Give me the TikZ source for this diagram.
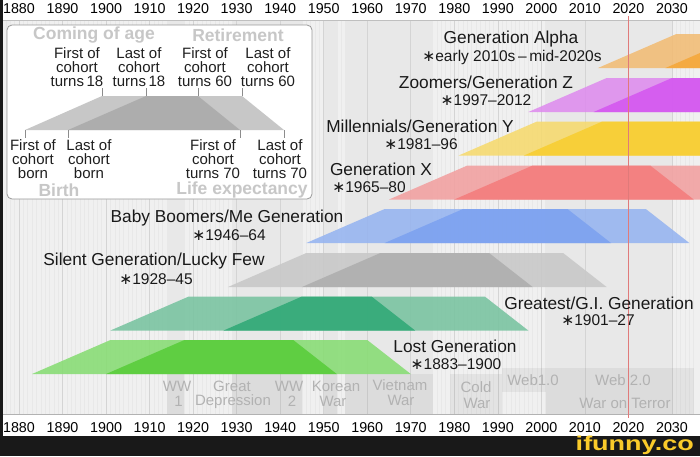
\documentclass[tikz,border=0pt]{standalone}
\usepackage{fontspec}
\setmainfont{Liberation Sans}
\newfontfamily\symfont{DejaVu Sans}
\definecolor{chartbg}{HTML}{F0F0F0}
\definecolor{alphaL}{HTML}{F2BC74}\definecolor{alphaD}{HTML}{F5A83C}
\definecolor{zL}{HTML}{DE8CEE}\definecolor{zD}{HTML}{D458F0}
\definecolor{yL}{HTML}{F6DA6E}\definecolor{yD}{HTML}{F8CE32}
\definecolor{xL}{HTML}{F2A0A0}\definecolor{xD}{HTML}{F47D7D}
\definecolor{bL}{HTML}{96B4F0}\definecolor{bD}{HTML}{7DA2F0}
\definecolor{sL}{HTML}{C8C8C8}\definecolor{sD}{HTML}{AFAFAF}
\definecolor{gL}{HTML}{78C3A0}\definecolor{gD}{HTML}{32AA78}
\definecolor{lL}{HTML}{87DC73}\definecolor{lD}{HTML}{5ACD3C}
\definecolor{nowred}{HTML}{E07A7A}
\definecolor{wmyellow}{HTML}{FACB2A}
\newcommand\genband[5]{%
  \fill[#4, fill opacity=0.88] ({yrx(#1)},{#3+34}) -- ({yrx(#1+18)},#3) -- ({yrx(#2+60)},#3) -- ({yrx(#2+70)},{#3+34}) -- cycle;
  \fill[#5, fill opacity=0.9] ({yrx(#2)},{#3+34}) -- ({yrx(#2+18)},#3) -- ({yrx(#1+60)},#3) -- ({yrx(#1+70)},{#3+34}) -- cycle;}
\newcommand\evbox[4]{%
  \fill[black, fill opacity=0.05] ({yrx(#1)},#3) rectangle ({yrx(#2)},#4);}
\begin{document}
\begin{tikzpicture}[x=1pt,y=-1pt,
  declare function={yrx(\x)=19+(\x-1880)*4.353;},
  yearline/.style={draw=black!9, line width=0.5pt},
  decline/.style={draw=black!17, line width=0.6pt},
  axl/.style={font=\fontsize{14.3}{15}\selectfont, inner sep=0, text=black},
  gname/.style={font=\fontsize{17.3}{18}\selectfont, inner sep=0, text=black!90},
  gsub/.style={font=\fontsize{15.5}{16}\selectfont, inner sep=0, text=black!90},
  evl/.style={font=\fontsize{15}{15}\selectfont, inner sep=0, text=black!30},
  leg/.style={font=\fontsize{15}{13.7}\selectfont, align=center, inner sep=0, text=black!88},
  legt/.style={font=\bfseries\fontsize{17.5}{18}\selectfont, inner sep=0, text=black!22},
  legtick/.style={draw=black!45, line width=0.6pt},
  legbox/.style={draw=black!40, fill=white, line width=0.8pt, rounded corners=5pt}]
\useasboundingbox (0,0) rectangle (700,456);
\fill[white] (0,0) rectangle (700,456);
\fill[chartbg] (0,20) rectangle (700,414);
% faint event tints over the full height
\foreach \s/\e in {1914/1918,1929/1939,1939/1945,1950/1953,1955/1975,2001/2030}
  {\fill[black, fill opacity=0.03] ({yrx(\s)},20) rectangle ({yrx(\e)},414);}
% year grid
\foreach \t in {1876,...,2035} {\draw[yearline] ({yrx(\t)},20) -- ({yrx(\t)},414);}
\foreach \t in {1880,1890,...,2030} {\draw[decline] ({yrx(\t)},20) -- ({yrx(\t)},414);}
% event label backdrops
\evbox{1914}{1918}{374}{414}
\evbox{1929}{1939}{374}{414}
\evbox{1939}{1945}{374}{414}
\evbox{1950}{1953}{374}{414}
\evbox{1955}{1975}{374}{414}
\evbox{1979}{1991}{374}{414}
\evbox{1991}{2004}{368}{392}
\evbox{2004}{2035}{368}{392}
\evbox{2001}{2035}{392}{414}
% generation bands
\begin{scope}
\clip (0,20) rectangle (700,414);
\genband{2013}{2028.5}{34}{alphaL}{alphaD}
\genband{1997}{2012}{78}{zL}{zD}
\genband{1981}{1996}{121.5}{yL}{yD}
\genband{1965}{1980}{165.5}{xL}{xD}
\genband{1946}{1964}{209}{bL}{bD}
\genband{1928}{1945}{253}{sL}{sD}
\genband{1901}{1927}{296.5}{gL}{gD}
\genband{1883}{1900}{340}{lL}{lD}
\end{scope}
\draw[black!25, line width=0.6pt] (0,20) -- (700,20);
\draw[black!30, line width=0.8pt] (0,414) -- (700,414);
% event labels
\node[evl] (ww1a) at (177,386) {WW};
\node[evl] (ww1b) at (178.5,401.5) {1};
\node[evl] (gda) at (232,386) {Great};
\node[evl] (gdb) at (233,401.5) {Depression};
\node[evl] (ww2a) at (289,386) {WW};
\node[evl] (ww2b) at (292,401.5) {2};
\node[evl] (kwa) at (336,386) {Korean};
\node[evl] (kwb) at (333,401.5) {War};
\node[evl] (vwa) at (400,385) {Vietnam};
\node[evl] (vwb) at (401,400.5) {War};
\node[evl] (cwa) at (476,387.5) {Cold};
\node[evl] (cwb) at (477,403) {War};
\node[evl] (web1) at (533,380) {Web1.0};
\node[evl] (web2) at (623,380) {Web 2.0};
\node[evl] (wot) at (625,403) {War on Terror};
% current year line
\draw[nowred, line width=0.8pt] ({yrx(2020)},16) -- ({yrx(2020)},418);
% legend box
\draw[legbox] (7,25) rectangle (312,199);
\fill[black!40, fill opacity=0.55] (25,130) -- (102,96) -- (198,96) -- (240,130) -- cycle;
\fill[black!40, fill opacity=0.55] (68,130) -- (146,96) -- (242,96) -- (284,130) -- cycle;
\foreach \p in {102,146,198,242} {\draw[legtick] (\p,88) -- (\p,96);}
\foreach \p in {25,68,240,284} {\draw[legtick] (\p,130) -- (\p,138);}
\node[legt] (coa) at (94,35) {Coming of age};
\node[legt] (ret) at (238,35) {Retirement};
\node[legt] (bir) at (59,190) {Birth};
\node[legt] (lex) at (242,190) {Life expectancy};
\node[leg] (lt1) at (77,67) {First of\\cohort\\turns\,18};
\node[leg] (lt2) at (139,67) {Last of\\cohort\\turns\,18};
\node[leg] (lt3) at (205,67) {First of\\cohort\\turns 60};
\node[leg] (lt4) at (268,67) {Last of\\cohort\\turns 60};
\node[leg] (lb1) at (33,159) {First of\\cohort\\born};
\node[leg] (lb2) at (89,159) {Last of\\cohort\\born};
\node[leg] (lb3) at (213,159) {First of\\cohort\\turns 70};
\node[leg] (lb4) at (280,159) {Last of\\cohort\\turns 70};
% generation labels
\node[gname] (nA) at (511,39) {Generation Alpha};
\node[gsub] (sA) at (512,57) {{\symfont ∗}early 2010s\,–\,mid-2020s};
\node[gname] (nZ) at (486,82) {Zoomers/Generation Z};
\node[gsub] (sZ) at (486,100) {{\symfont ∗}1997–2012};
\node[gname] (nY) at (420,126) {Millennials/Generation Y};
\node[gsub] (sY) at (421,144) {{\symfont ∗}1981–96};
\node[gname] (nX) at (381,169) {Generation X};
\node[gsub] (sX) at (369,187) {{\symfont ∗}1965–80};
\node[gname] (nB) at (227,218) {Baby Boomers/Me Generation};
\node[gsub] (sB) at (229,235) {{\symfont ∗}1946–64};
\node[gname] (nS) at (154,261) {Silent Generation/Lucky Few};
\node[gsub] (sS) at (156,279) {{\symfont ∗}1928–45};
\node[gname] (nG) at (599,303) {Greatest/G.I. Generation};
\node[gsub] (sG) at (598,320) {{\symfont ∗}1901–27};
\node[gname] (nL) at (455,346) {Lost Generation};
\node[gsub] (sL) at (456,364) {{\symfont ∗}1883–1900};
% axes
\foreach \t in {1880,1890,...,2030} {
  \node[axl] (top\t) at ({yrx(\t)},8.5) {\t};
  \node[axl] (bot\t) at ({yrx(\t)},427.5) {\t};}
% frame bits
\fill[black!90] (0,436) rectangle (700,456);
\fill[black!90] (0,0) rectangle (2.5,436);
\node[font=\bfseries\fontsize{20}{20}\selectfont, text=wmyellow, anchor=base east, inner sep=0, xscale=1.35] (wm) at (694,450.5) {ifunny.co};
\end{tikzpicture}
\end{document}
